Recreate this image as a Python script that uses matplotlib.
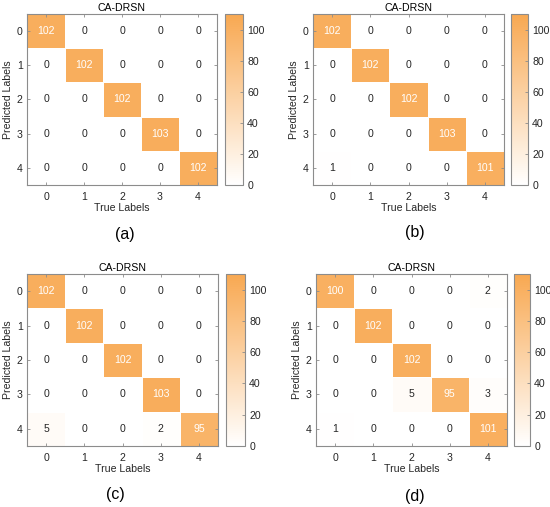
import numpy as np
import matplotlib
matplotlib.use("Agg")
import matplotlib.pyplot as plt
from matplotlib.colors import LinearSegmentedColormap

# luokat ja sekaannusmatriisit (rivit = ennustettu, sarakkeet = todellinen)
labels = ["0", "1", "2", "3", "4"]
cm_a = [[102, 0, 0, 0, 0],
        [0, 102, 0, 0, 0],
        [0, 0, 102, 0, 0],
        [0, 0, 0, 103, 0],
        [0, 0, 0, 0, 102]]
cm_b = [[102, 0, 0, 0, 0],
        [0, 102, 0, 0, 0],
        [0, 0, 102, 0, 0],
        [0, 0, 0, 103, 0],
        [1, 0, 0, 0, 101]]
cm_c = [[102, 0, 0, 0, 0],
        [0, 102, 0, 0, 0],
        [0, 0, 102, 0, 0],
        [0, 0, 0, 103, 0],
        [5, 0, 0, 2, 95]]
cm_d = [[100, 0, 0, 0, 2],
        [0, 102, 0, 0, 0],
        [0, 0, 102, 0, 0],
        [0, 0, 5, 95, 3],
        [1, 0, 0, 0, 101]]
panel_names = ["(a)", "(b)", "(c)", "(d)"]
title = "CA-DRSN"

plt.rcParams['font.family'] = ['Liberation Sans', 'DejaVu Sans']
cmap = LinearSegmentedColormap.from_list("oranssi", ["#ffffff", "#f8a851"])
vmax = 110
spine_col = "#8c8c8c"
txt_col = "#262626"
fs = 7.6

W, H = 550, 507
fig = plt.figure(figsize=(W / 100, H / 100), dpi=100)

# paneelien paikat pikseleinä: ax_x0, ax_x1, ax_ytop, ax_ybot, cb_x0, cb_x1, label_x, label_y
paikat = [
    (27, 217, 14, 185, 225, 243, 125, 235),
    (313, 504, 14, 185, 511, 528, 415, 233),
    (27, 218, 274, 446, 226, 245, 115, 495),
    (316, 507, 274, 446, 514, 530, 415, 497),
]

for cm, name, p in zip([cm_a, cm_b, cm_c, cm_d], panel_names, paikat):
    x0, x1, yt, yb, c0, c1, lx, ly = p
    ax = fig.add_axes([x0 / W, 1 - yb / H, (x1 - x0) / W, (yb - yt) / H])
    arr = np.array(cm)
    n = len(labels)
    mesh = ax.pcolormesh(np.arange(n + 1) - 0.5, np.arange(n + 1) - 0.5, arr,
                         cmap=cmap, vmin=0, vmax=vmax,
                         edgecolor="white", linewidth=0.7)
    ax.set_xlim(-0.5, n - 0.5)
    ax.set_ylim(n - 0.5, -0.5)
    for i in range(n):
        for j in range(n):
            v = arr[i, j]
            ax.text(j, i, str(v), ha="center", va="center", fontsize=fs,
                    color="white" if v > 50 else txt_col)
    ax.set_xticks(range(n))
    ax.set_yticks(range(n))
    ax.set_xticklabels(labels)
    ax.set_yticklabels(labels)
    ax.tick_params(direction="in", length=2.5, width=0.6, color=spine_col,
                   labelsize=fs, labelcolor=txt_col, top=True, right=True,
                   labeltop=False, labelright=False)
    ax.tick_params(axis="x", pad=5)
    ax.tick_params(axis="y", pad=3)
    for s in ax.spines.values():
        s.set_color(spine_col)
        s.set_linewidth(0.8)
    ax.set_xlabel("True Labels", fontsize=fs, color=txt_col, labelpad=1)
    ax.set_ylabel("Predicted Labels", fontsize=fs, color=txt_col, labelpad=3)
    ax.set_title(title, fontsize=fs, color="black", pad=2)

    cax = fig.add_axes([c0 / W, 1 - yb / H, (c1 - c0) / W, (yb - yt) / H])
    cb = fig.colorbar(mesh, cax=cax)
    cb.set_ticks([0, 20, 40, 60, 80, 100])
    cb.outline.set_edgecolor(spine_col)
    cb.outline.set_linewidth(0.8)
    cax.tick_params(direction="in", length=2.5, width=0.6, color=spine_col,
                    labelsize=fs, labelcolor=txt_col, pad=3)

    fig.text(lx / W, 1 - ly / H, name, ha="center", va="center", fontsize=11.5,
             color="black")

fig.savefig("out.png", dpi=100)
